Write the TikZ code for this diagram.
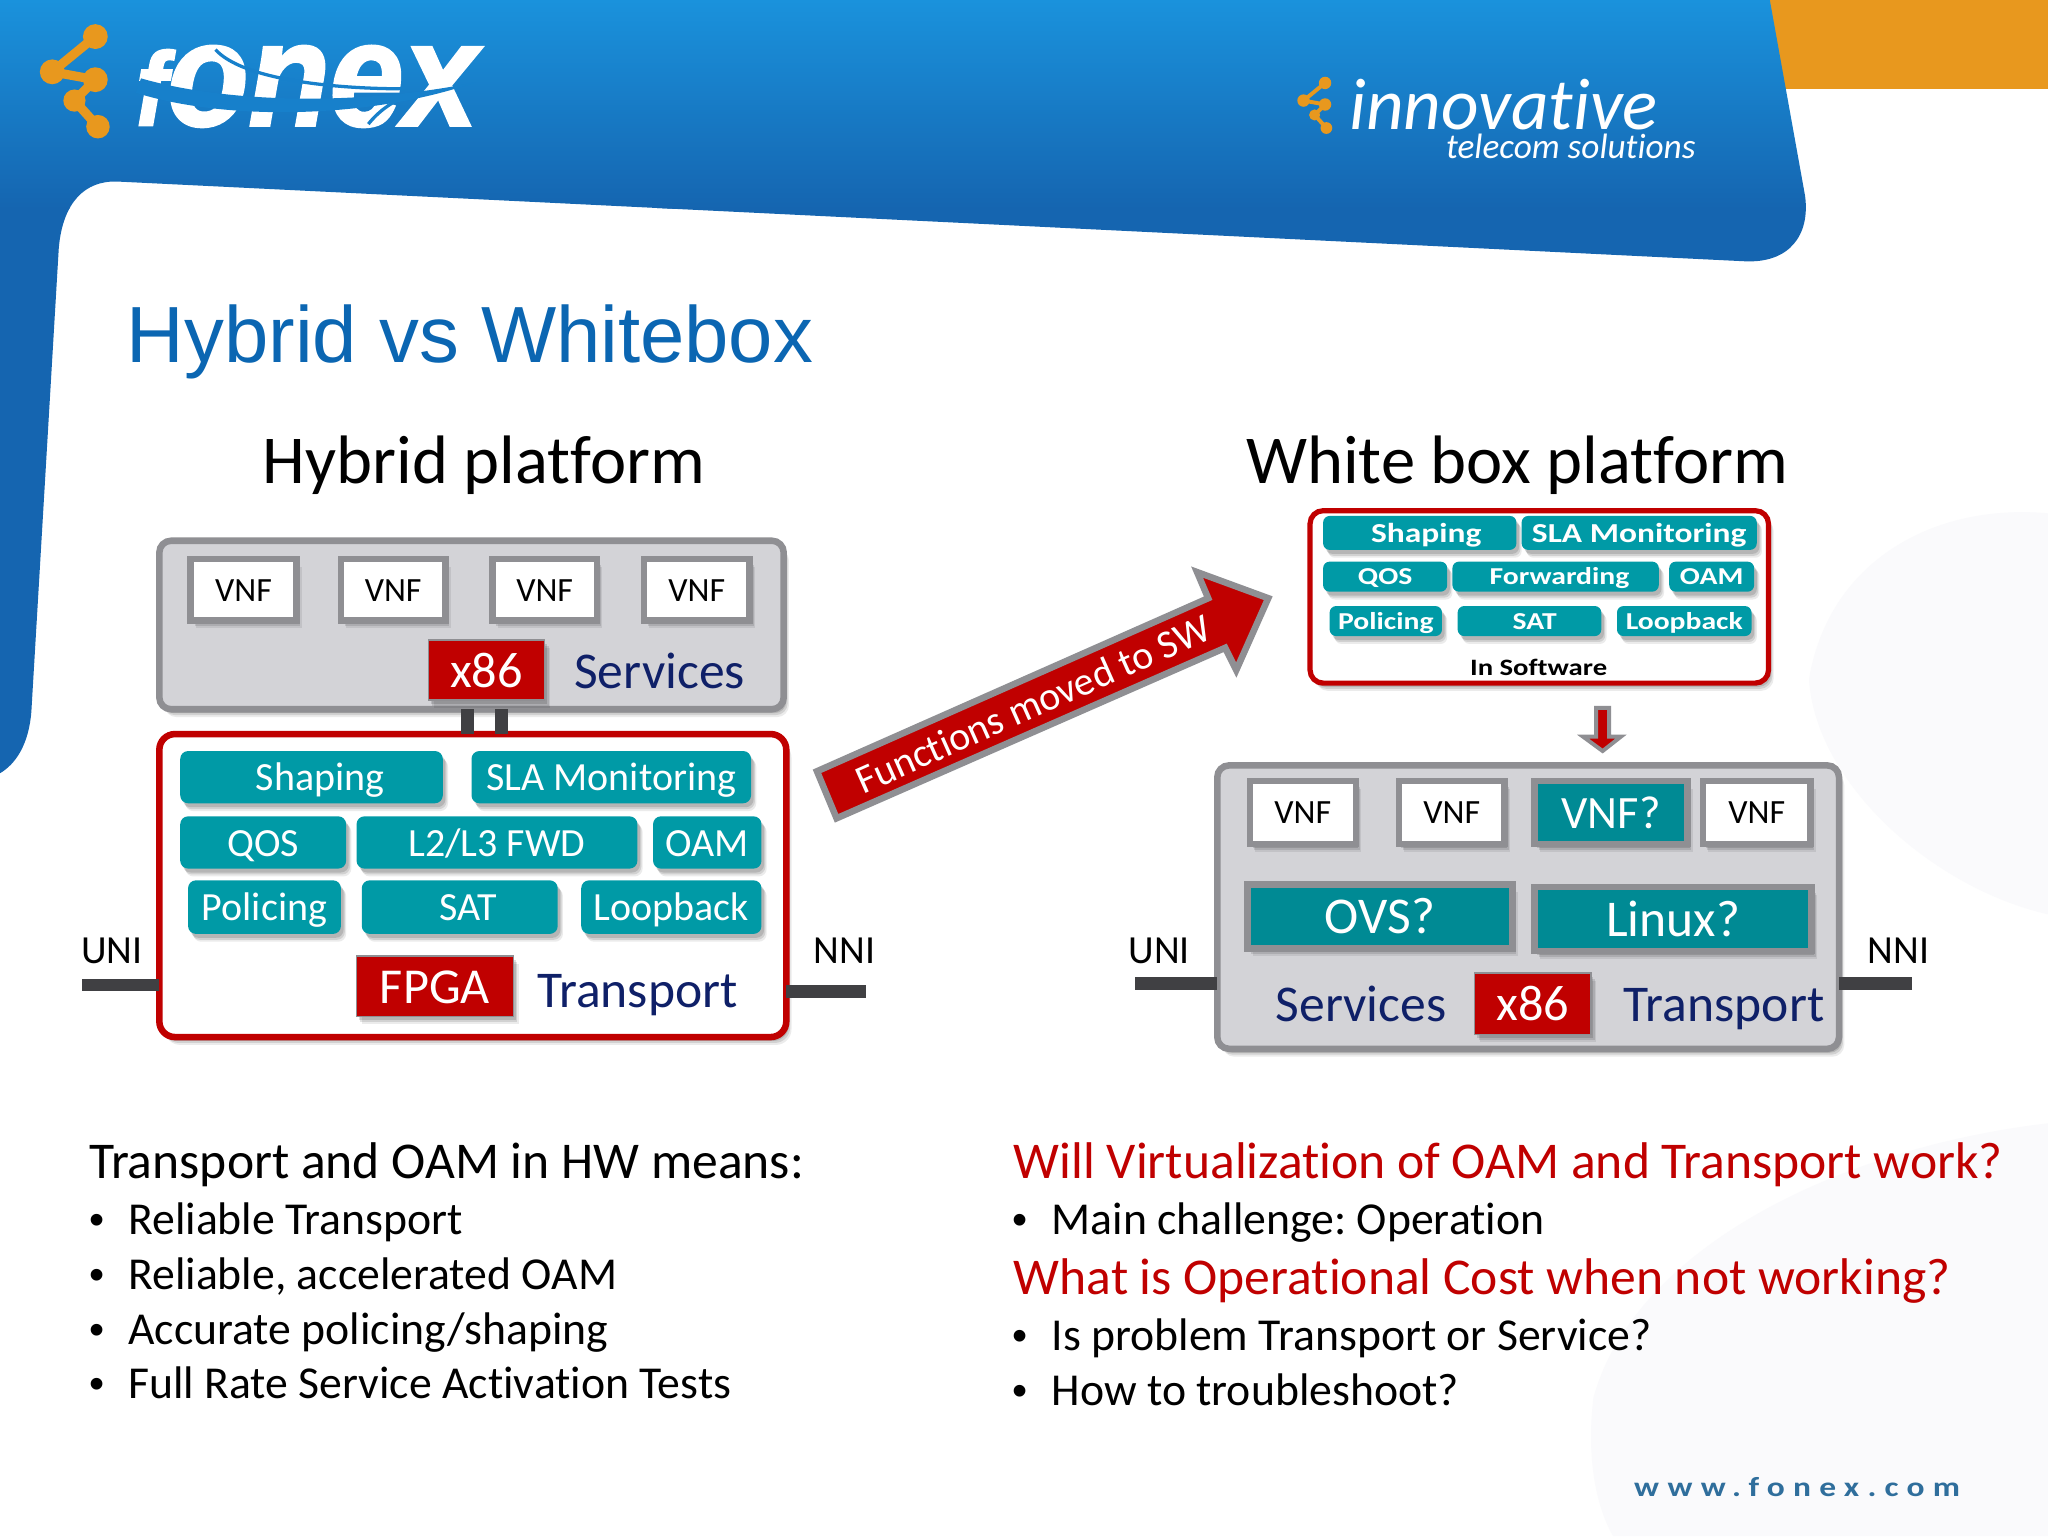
\documentclass[tikz,border=0pt]{standalone}
\usepackage{fontspec}
\setmainfont[Ligatures=NoCommon]{Carlito}
\newfontfamily\arialf{Liberation Sans}
\newfontfamily\logof[FakeBold=2]{Liberation Sans}
\newfontfamily\widef[FakeStretch=1.22,Ligatures=NoCommon]{Carlito}
\usetikzlibrary{shadows}
\definecolor{blueTop}{HTML}{1A92DC}
\definecolor{blueBot}{HTML}{1565B0}
\definecolor{blueMid}{HTML}{1780CB}
\definecolor{orangeC}{HTML}{E8981E}
\definecolor{redC}{HTML}{C00000}
\definecolor{tealC}{HTML}{009AA6}
\definecolor{tealD}{HTML}{008A94}
\definecolor{grayS}{HTML}{8F8F93}
\definecolor{grayF}{HTML}{D3D3D7}
\definecolor{navyC}{HTML}{0F2068}
\definecolor{wireC}{HTML}{404043}
\definecolor{titleC}{HTML}{0B66B2}
\definecolor{urlC}{HTML}{2F6E9C}
\definecolor{markC}{HTML}{FAFAFC}
\frenchspacing
\newcommand{\fs}[1]{\fontsize{#1}{#1}\selectfont}
\newcommand{\ct}[1]{\raisebox{0pt}[.68em][0pt]{#1}}
\newcommand{\bx}[7][]{%
  \pgfmathsetmacro{\cxv}{(#4+#6)/2}\pgfmathsetmacro{\cyv}{(#5+#7)/2}%
  \pgfmathsetmacro{\wv}{#6-#4}\pgfmathsetmacro{\hv}{#7-#5}%
  \node[#3,minimum width=\wv pt,minimum height=\hv pt] (#2) at (\cxv,\cyv) {\ct{#1}};}
\tikzset{
  softshadow/.style={
    drop shadow={shadow xshift=2pt,shadow yshift=-3pt,fill=black,opacity=.13},
    drop shadow={shadow xshift=3pt,shadow yshift=-4.5pt,fill=black,opacity=.11},
    drop shadow={shadow xshift=4pt,shadow yshift=-6pt,fill=black,opacity=.08}},
  basebox/.style={inner sep=0pt,outer sep=0pt},
  outerbox/.style={basebox,rounded corners=9pt,draw=grayS,line width=5pt,fill=grayF,softshadow},
  transbox/.style={basebox,rounded corners=12pt,draw=redC,line width=5pt,fill=white,softshadow},
  vnfbox/.style={basebox,draw=grayS,line width=5pt,fill=white,softshadow,text=black,font=\fs{26}},
  qbox/.style={basebox,draw=grayS,line width=5pt,fill=tealD,softshadow,text=white},
  tealbox/.style={basebox,rounded corners=6pt,fill=tealC,softshadow,text=white,font=\fs{30.6}},
  smallteal/.style={basebox,rounded corners=5pt,fill=tealC,softshadow,text=white,font=\widef\bfseries\fs{18.6}},
  bigsmall/.style={smallteal,font=\widef\bfseries\fs{21}},
  redbox/.style={basebox,draw=grayS,line width=1pt,fill=redC,softshadow,text=white,font=\fs{38.5}},
  navylabel/.style={basebox,text=navyC,font=\fs{39.5}},
  iflabel/.style={basebox,text=black,font=\fs{30.5}},
  wire/.style={draw=wireC,line width=9.5pt},
  bodyt/.style={anchor=base west,inner sep=0pt,text=black,font=\fs{35}},
  bullt/.style={anchor=base west,inner sep=0pt,text=black,font=\arialf\fs{33}},
  headt/.style={anchor=base west,inner sep=0pt,text=black,font=\fs{39.5}},
  redhead/.style={headt,text=redC},
  platform/.style={inner sep=0pt,anchor=base,text=black,font=\fs{52.5}},
}
\newcommand{\netlogo}[4]{% x y scale link-width
  \begin{scope}[shift={(#1,#2)},x=#3pt,y=-#3pt]
    \draw[draw=orangeC,line width=#4pt]
      (33,-27)--(0,0)--(33,6)--(17,22)--(35,42);
    \foreach \px/\py/\pr in {33/-27/9.5,0/0/9.5,33/6/9.5,17/22/8.5,35/42/9}
      \fill[orangeC] (\px,\py) circle[radius=\pr];
  \end{scope}}
\begin{document}
\begin{tikzpicture}[x=1pt,y=-1pt]
\useasboundingbox (0,0) rectangle (1568,1176);
\fill[white] (0,0) rectangle (1568,1176);
% faint watermark
\fill[markC] (1568,393) .. controls (1480,385) and (1400,430) .. (1385,520)
  .. controls (1390,600) and (1480,680) .. (1568,700) -- cycle;
\fill[markC] (1568,860) .. controls (1400,880) and (1250,960) .. (1220,1070)
  .. controls (1215,1110) and (1220,1150) .. (1235,1176) -- (1568,1176) -- cycle;
% orange corner
\fill[orangeC] (1340,0) rectangle (1568,68);
% blue header
\begin{scope}
  \clip (0,0) -- (1355,0) -- (1382,150) .. controls (1386,180) and (1370,202) .. (1335,200)
    -- (90,139) .. controls (65,138) and (48,155) .. (45,190)
    -- (24,545) .. controls (22,570) and (12,585) .. (0,592) -- cycle;
  \shade[top color=blueTop,bottom color=blueBot] (0,0) rectangle (1568,160);
  \fill[blueBot] (0,159.5) rectangle (1568,600);
\end{scope}
% fonex logo
\netlogo{40}{55}{1}{7}
\node[inner sep=0pt,anchor=base west,text=white] (fonexlogo) at (104,96)
  {\logof\bfseries\itshape\scalebox{0.9}[1]{\fs{80}f\fs{113}onex}};
\fill[blueMid] (108,60) .. controls (170,78) and (270,82) .. (364,63)
  .. controls (280,92) and (170,92) .. (104,71) -- cycle;
\draw[blueMid,line width=2.5pt] (165,38) .. controls (185,60) and (250,68) .. (310,68);
\draw[blueMid,line width=2.5pt] (282,95) .. controls (290,85) and (300,78) .. (312,73);
% innovative logo
\netlogo{998}{77}{0.5}{3}
\node[inner sep=0pt,anchor=base west,text=white] (innov) at (1033,99) {\itshape\fs{56}innovative};
\node[inner sep=0pt,anchor=base west,text=white] (telecom) at (1107,121) {\itshape\fs{27}telecom solutions};
% titles
\node[inner sep=0pt,anchor=base west,text=titleC] (title) at (97,277.5) {\arialf\fs{61}Hybrid vs Whitebox};
\node[platform] (hybridT) at (370.5,370.5) {Hybrid platform};
\node[platform] (whiteT) at (1161.5,370.5) {White box platform};
% left: wires
\coordinate (w1) at (358,553);
\coordinate (w2) at (384,553);
\coordinate (uniA) at (63,754);
\coordinate (nniA) at (663,759);
\coordinate (uniB) at (869,753);
\coordinate (nniB) at (1464,753);
% left boxes
\bx{svc}{outerbox}{122}{414}{600}{543}
\bx{trn}{transbox}{122}{562}{602}{794}
\draw[wire] (w1|-svc.south) -- (w1|-trn.north);
\draw[wire] (w2|-svc.south) -- (w2|-trn.north);
\draw[wire] (uniA) -- (uniA-|trn.west);
\draw[wire] (nniA) -- (nniA-|trn.east);
\bx[VNF]{v1}{vnfbox}{146}{428}{227}{475}
\bx[VNF]{v2}{vnfbox}{261}{428}{341}{475}
\bx[VNF]{v3}{vnfbox}{377}{428}{457}{475}
\bx[VNF]{v4}{vnfbox}{493}{428}{574}{475}
\bx[x86]{xa}{redbox}{328}{490}{417}{536}
\node[navylabel] (svcL) at (505,514) {\ct{Services}};
\bx[\hspace*{13pt}Shaping]{sa}{tealbox}{138}{575}{339}{615}
\bx[SLA Monitoring]{sb}{tealbox}{361}{575}{575}{615}
\bx[QOS]{sc}{tealbox}{138}{625}{265}{665}
\bx[L2/L3 FWD]{sd}{tealbox}{273}{625}{488}{665}
\bx[OAM]{se}{tealbox}{500}{625}{583}{665}
\bx[Policing]{sf}{tealbox}{144}{674}{261}{715}
\bx[\hspace*{13pt}SAT]{sg}{tealbox}{277}{674}{427}{715}
\bx[Loopback]{sh}{tealbox}{445}{674}{583}{715}
\bx[FPGA]{fp}{redbox}{273}{732}{393}{778}
\node[navylabel] (trnL) at (488,758) {\ct{Transport}};
\node[iflabel] (uniLa) at (85.5,727) {\ct{UNI}};
\node[iflabel] (nniLa) at (646.5,727) {\ct{NNI}};
% big arrow
\draw[draw=grayS,fill=redC,line width=5pt,miter limit=10]
  (625.5,590.5) -- (925,458) -- (916.5,438) -- (971,458) -- (946.5,513) -- (938,496) -- (640.5,626.5) -- cycle;
\node[rotate=24,inner sep=0pt,text=white,font=\fs{30.6}] (fnL) at (791,539) {\ct{Functions moved to SW}};
% right top
\bx{sw}{transbox,rounded corners=10pt,line width=4pt}{1003}{391}{1354}{523}
\bx[\hspace*{10pt}Shaping]{ta}{bigsmall}{1013}{395}{1161}{421}
\bx[SLA Monitoring]{tb}{bigsmall}{1165}{395}{1345}{421}
\bx[QOS]{tc}{smallteal}{1013}{430}{1108}{453}
\bx[\hspace*{6pt}Forwarding]{td}{smallteal}{1112}{430}{1270}{453}
\bx[OAM]{te}{smallteal}{1278}{430}{1343}{453}
\bx[Policing]{tf}{smallteal}{1018}{464}{1104}{487}
\bx[\hspace*{8pt}SAT]{tg}{smallteal}{1116}{464}{1226}{487}
\bx[Loopback]{th}{smallteal}{1238}{464}{1341}{487}
\node[inner sep=0pt,text=black,font=\widef\bfseries\fs{18}] (inSW) at (1178,511) {\ct{In Software}};
% down arrow
\draw[draw=grayS,fill=redC,line width=3pt,miter limit=10]
  (1222,542) -- (1232,542) -- (1232,564) -- (1241,564) -- (1227,575) -- (1212,564) -- (1222,564) -- cycle;
% right big box
\bx{wb}{outerbox}{932}{586}{1408}{803}
\draw[wire] (uniB) -- (uniB-|wb.west);
\draw[wire] (nniB) -- (nniB-|wb.east);
\bx[VNF]{w1n}{vnfbox}{957}{598}{1038}{646}
\bx[VNF]{w2n}{vnfbox}{1071}{598}{1152}{646}
\bx[VNF?]{w3n}{qbox,font=\fs{35.5}}{1175}{598}{1292}{646}
\bx[VNF]{w4n}{vnfbox}{1304}{598}{1386}{646}
\bx[OVS?]{ovs}{qbox,font=\fs{39.5}}{955}{677}{1158}{726}
\bx[Linux?]{lnx}{qbox,font=\fs{39.5}}{1175}{679}{1387}{728}
\node[navylabel] (svcR) at (1042,769) {\ct{Services}};
\bx[x86]{xb}{redbox}{1129}{745}{1218}{792}
\node[navylabel] (trnR) at (1320,769) {\ct{Transport}};
\node[iflabel] (uniLb) at (887.5,727) {\ct{UNI}};
\node[iflabel] (nniLb) at (1453.5,727) {\ct{NNI}};
% bottom text left
\node[headt] (h1) at (68,902) {Transport and OAM in HW means:};
\foreach \nm/\yy/\tx in {a/945/{Reliable Transport},b/987/{Reliable, accelerated OAM},c/1029/{Accurate policing/shaping},d/1071/{Full Rate Service Activation Tests}}{
  \node[bullt] (lb\nm) at (68,\yy) {•};
  \node[bodyt] (lt\nm) at (98,\yy) {\tx};
}
% bottom text right
\node[redhead] (r1) at (776,902) {Will Virtualization of OAM and Transport work?};
\node[bullt] (rba) at (775,945) {•};
\node[bodyt] (rta) at (805,945) {Main challenge: Operation};
\node[redhead] (r2) at (776,991) {What is Operational Cost when not working?};
\node[bullt] (rbb) at (775,1034) {•};
\node[bodyt] (rtb) at (805,1034) {Is problem Transport or Service?};
\node[bullt] (rbc) at (775,1076) {•};
\node[bodyt] (rtc) at (805,1076) {How to troubleshoot?};
\node[inner sep=0pt,anchor=base west,text=urlC] (url) at (1251,1146)
  {\widef\bfseries\addfontfeature{LetterSpace=30}\fs{21}www.fonex.com};
\end{tikzpicture}
\end{document}
